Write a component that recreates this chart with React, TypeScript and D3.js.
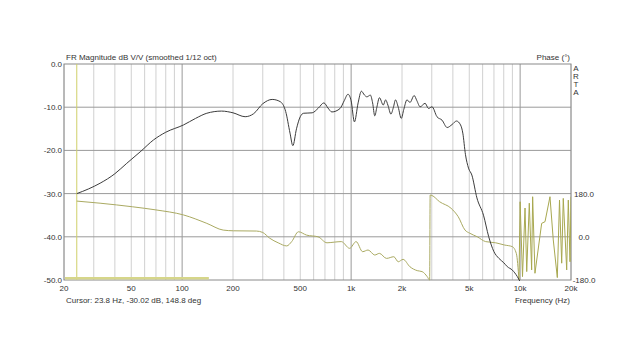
import React from "react";
import * as d3 from "d3";

const magFreq = [23.8, 28, 32.7, 40, 47, 57, 67.6, 80, 102, 120, 140, 171, 200, 236, 265, 300, 341, 380, 410, 435, 452, 475, 500, 524, 588, 640, 690, 730, 769, 860, 910, 958, 1000, 1046, 1100, 1150, 1200, 1240, 1300, 1340, 1380, 1420, 1470, 1550, 1600, 1650, 1720, 1780, 1830, 1900, 1980, 2050, 2140, 2230, 2360, 2450, 2560, 2740, 2870, 3010, 3220, 3450, 3700, 3960, 4200, 4440, 4580, 4750, 4950, 5180, 5550, 6070, 6520, 6990, 7490, 8000, 8390, 8990, 9620, 10000];
const magDb = [-30.0, -28.9, -27.6, -25.4, -23, -20.2, -17.6, -15.8, -14.1, -12.6, -11.4, -10.9, -11.3, -12.2, -11.5, -9.2, -8.2, -8.7, -11, -16, -18.9, -15, -12.2, -11.4, -11.3, -10.2, -9.0, -10.2, -11.1, -10.3, -8.5, -7.0, -8.5, -13.4, -9, -6.3, -7.2, -7.6, -7.2, -9, -12, -10, -7.8, -9.5, -8.3, -9.5, -11.6, -10, -8.3, -10, -12.6, -10.5, -8.3, -8.9, -7.3, -8.5, -9.9, -9.1, -10.3, -9.9, -12.2, -13, -14.7, -14, -13.2, -14.1, -16, -21, -24.1, -25.7, -31, -35, -40, -43.4, -45, -46, -46.9, -47.7, -49.2, -50.4];

const phaseFreq = [23.8, 32.7, 51, 70, 102, 140, 175, 201, 275, 300, 330, 370, 416, 445, 488, 545, 637, 720, 800, 875, 980, 1070, 1170, 1260, 1380, 1470, 1620, 1790, 1900, 2030, 2230, 2460, 2630, 2820, 2915, 2935, 3010, 3340, 3900, 4300, 4720, 5030, 5580, 6250, 7170, 8050, 8990, 9500, 9845];
const phaseDeg = [148.8, 140, 125, 112, 91, 56, 28, 25, 24, 18, -6, -25, -38, -20, 21, 7, 0, -25, -22, -20, -48, -20, -62, -55, -76, -69, -90, -83, -104, -94, -125, -141, -145, -166, -180, 174, 172, 146, 119, 84, 28, 15, 0, -20, -25, -34, -41, -70, -180];

const hfPhaseFreq = [9845, 10000, 10330, 10690, 10940, 11330, 11700, 11860, 12240, 13410, 14040, 15020, 15710, 16600, 17100, 17620, 18000, 18860, 19280, 19730, 20000];
const hfPhaseDeg = [-180, 146, -166, 120, -145, 140, -138, 167, -152, 56, 63, 167, -13, -170, 153, -110, 160, -138, 153, -104, 167];

const xMinorTicks = [20, 30, 40, 50, 60, 70, 80, 90, 100, 200, 300, 400, 500, 600, 700, 800, 900, 1000, 2000, 3000, 4000, 5000, 6000, 7000, 8000, 9000, 10000, 20000];
const xMajorTicks = [100, 1000, 10000];
const xTickValues = [20, 50, 100, 200, 500, 1000, 2000, 5000, 10000, 20000];
const xTickLabels = ["20", "50", "100", "200", "500", "1k", "2k", "5k", "10k", "20k"];
const yTicks = [0, -10, -20, -30, -40, -50];
const phaseTicks = [180, 0, -180];
const cursorFreq = 23.8;
const bandRange = [20, 142];

const title = "FR Magnitude dB V/V (smoothed 1/12 oct)";
const rightTitle = "Phase (°)";
const cursorText = "Cursor: 23.8 Hz, -30.02 dB, 148.8 deg";
const xTitle = "Frequency (Hz)";
const brand = ["A", "R", "T", "A"];

const L = 64, R = 571, T = 64, B = 280;
const FONT = "'Liberation Sans', Arial, sans-serif";

export default function App() {
  const x = d3.scaleLog().domain([20, 20000]).range([L, R]);
  const y = d3.scaleLinear().domain([-50, 0]).range([B, T]);
  const yp = d3.scaleLinear().domain([-180, 180]).range([y(-50), y(-30)]);

  const magLine = d3.line<number>()
    .x((_, i) => x(magFreq[i]))
    .y((d) => y(d))
    .curve(d3.curveMonotoneX);
  const phLine = d3.line<number>()
    .x((_, i) => x(phaseFreq[i]))
    .y((d) => yp(d))
    .curve(d3.curveMonotoneX);
  const hfLine = d3.line<number>()
    .x((_, i) => x(hfPhaseFreq[i]))
    .y((d) => yp(d))
    .curve(d3.curveLinear);

  return (
    <svg width={640} height={360} style={{ position: "absolute", left: 0, top: 0, background: "#fff" }} fontFamily={FONT}>
      <defs>
        <clipPath id="plot">
          <rect x={L} y={T} width={R - L} height={B - T + 1} />
        </clipPath>
      </defs>
      <rect x={0} y={0} width={640} height={360} fill="#fff" />
      {xMinorTicks.map((f) => (
        <line key={"vx" + f} x1={x(f)} x2={x(f)} y1={T} y2={B}
          stroke={xMajorTicks.includes(f) ? "#9a9a9a" : "#d0d0d0"} strokeWidth={1} />
      ))}
      {yTicks.slice(1, -1).map((v) => (
        <line key={"hy" + v} x1={L} x2={R} y1={y(v)} y2={y(v)} stroke="#9a9a9a" strokeWidth={1} />
      ))}
      <rect x={L} y={T} width={R - L} height={B - T} fill="none" stroke="#8a8a8a" strokeWidth={1} />
      <line x1={x(cursorFreq)} x2={x(cursorFreq)} y1={T} y2={B} stroke="#cfcf6a" strokeWidth={1} />
      <rect x={x(bandRange[0]) + 1} y={y(-50) - 3} width={x(bandRange[1]) - x(bandRange[0])} height={2.5} fill="#d6d68a" />
      <g clipPath="url(#plot)" fill="none">
        <path d={phLine(phaseDeg) || ""} stroke="#aaaa62" strokeWidth={1} />
        <path d={hfLine(hfPhaseDeg) || ""} stroke="#a8a850" strokeWidth={1} />
        <path d={magLine(magDb) || ""} stroke="#3c3c3c" strokeWidth={1} />
      </g>
      <g fontSize={8} fill="#333">
        <text x={L + 2} y={60}>{title}</text>
        <text x={R - 1} y={60} textAnchor="end">{rightTitle}</text>
        {brand.map((c, i) => (
          <text key={"b" + i} x={576} y={71 + i * 8} textAnchor="middle">{c}</text>
        ))}
        {yTicks.map((v) => (
          <text key={"yl" + v} x={L - 2} y={y(v) + 3} textAnchor="end">{v.toFixed(1)}</text>
        ))}
        {phaseTicks.map((v) => (
          <text key={"pl" + v} x={584} y={yp(v) + 3} textAnchor="middle">{v.toFixed(1)}</text>
        ))}
        {xTickValues.map((f, i) => (
          <text key={"xl" + f} x={x(f)} y={291} textAnchor="middle">{xTickLabels[i]}</text>
        ))}
        <text x={L + 2} y={303}>{cursorText}</text>
        <text x={R - 1} y={303} textAnchor="end">{xTitle}</text>
      </g>
    </svg>
  );
}
